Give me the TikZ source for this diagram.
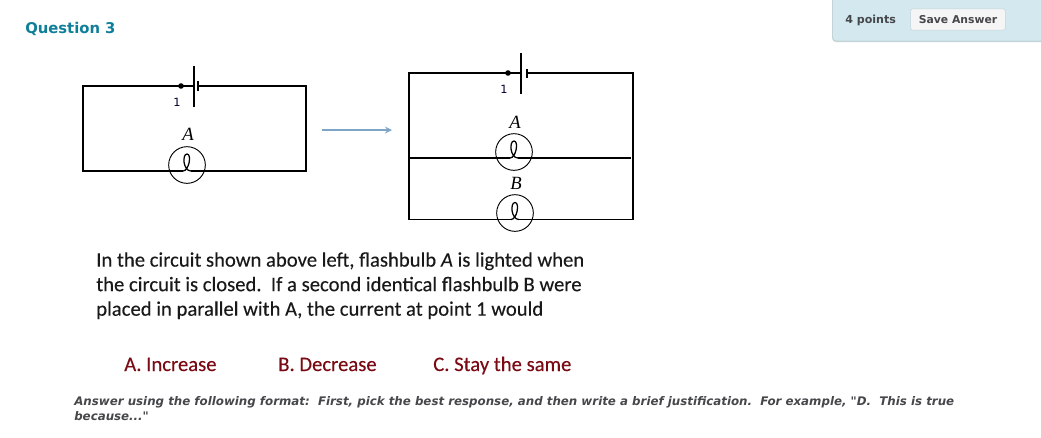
\documentclass[tikz,border=0pt]{standalone}
\usepackage{fontspec}
\setmainfont{Carlito}[FakeBold=0.2,AutoFakeBold=false]
\newfontfamily\bodyfont{Carlito}[ItalicFont=Carlito Italic]
\newfontfamily\uifont{DejaVu Sans}
\newfontfamily\lampfont{Liberation Serif}
\definecolor{headteal}{HTML}{0F7F99}
\definecolor{panelblue}{HTML}{D3E9EF}
\definecolor{panelline}{HTML}{C4D3D8}
\definecolor{choicered}{HTML}{7A0A14}
\definecolor{notegrey}{HTML}{45474A}
\definecolor{arrowblue}{HTML}{7FA5C6}
\begin{document}
\begin{tikzpicture}[x=0.75pt,y=-0.75pt,
    wire/.style ={line width=1.35pt, black},
    plate/.style ={line width=0.95pt, black},
    lamp/.style ={circle, draw, line width=0.7pt, inner sep = 0pt, minimum size=27.5pt},
    junction/.style ={circle, fill, inner sep = 0pt, minimum size=4.2pt},
    filament/.style ={line width=0.95pt, to path={.. controls +(6,0) and +(5,0) .. ++(4,-17) .. controls +(-5,0) and +(-8,0) .. (\tikztotarget)}},
    lamplabel/.style ={font=\lampfont\itshape\fontsize{14}{16}\selectfont},
    pointlabel/.style ={font=\uifont\fontsize{8.5}{10}\selectfont, text=black!80!blue},
    uitext/.style ={anchor=base west, inner sep=0pt, font=\uifont\bfseries\fontsize{8.3}{10}\selectfont, text=notegrey},
    choice/.style ={anchor=base west, inner sep=0pt, font=\bodyfont\fontsize{15.5}{18}\selectfont\addfontfeatures{FakeBold=0.2}, text=choicered}]
   \useasboundingbox (0,0) rectangle (1041,437);
   % top right panel
   \fill[panelline] (832,-5) -- (832,38) arc (180:90:4) -- (1046,42) -- (1046,-5) -- cycle;
   \fill[panelblue] (833,-5) -- (833,37) arc (180:90:3.5) -- (1046,40.5) -- (1046,-5) -- cycle;
   \node[uitext] (points) at (845,23) {4 points};
   \node[draw=panelline, fill=black!4, rounded corners=1.5pt, minimum width=71pt, minimum height=16pt, inner sep=0pt,
     font=\uifont\bfseries\fontsize{8.1}{10}\selectfont, text=notegrey] (save) at (958,19.5) {Save Answer};
   \node[uitext, text=headteal, font=\uifont\bfseries\fontsize{11.1}{13}\selectfont] (question) at (25,33) {Question 3};

   % left circuit
   \coordinate (TL) at (83,86);
   \coordinate (TR) at (306,86);
   \coordinate (BL) at (83,171);
   \coordinate (BR) at (306,171);
   \coordinate (batL) at (194,86);
   \coordinate (batR) at (198,86);
   \node[junction] (dotL) at (181,86) {};
   \node[pointlabel] (pointL) at (177,102) {1};
   \node[lamp] (lampA) at (187,165) {};
   \coordinate (lampAin) at (183,171);
   \coordinate (lampAout) at (191,171);
   \node[lamplabel] (nameA) at (188,134) {A};
   \draw[wire] (batL) to (TL) to (BL) to (lampAin);
   \draw[wire] (batR) to (TR) to (BR) to (lampAout);
   \draw[filament] (lampAin) to (lampAout);
   \draw[plate] (194,66) to (194,107);
   \draw[plate] (198,81) to (198,91);

   % arrow between the circuits
   \coordinate (arrowS) at (322,130);
   \coordinate (arrowE) at (392,130);
   \draw[arrowblue, line width=1.3pt, -stealth] (arrowS) to (arrowE);

   % right circuit
   \coordinate (tl) at (409,73);
   \coordinate (tr) at (633,73);
   \coordinate (ml) at (409,158);
   \coordinate (mr) at (631,158);
   \coordinate (bl) at (409,219.5);
   \coordinate (br) at (633,219.5);
   \coordinate (batl) at (521,73);
   \coordinate (batr) at (527,73);
   \node[junction] (dotR) at (508,73) {};
   \node[pointlabel] (pointR) at (504,89) {1};
   \node[lamp] (lampB) at (514,152) {};
   \node[lamp] (lampC) at (515,213) {};
   \coordinate (lampBin) at (510,158);
   \coordinate (lampBout) at (518,158);
   \coordinate (lampCin) at (511,219.5);
   \coordinate (lampCout) at (519,219.5);
   \node[lamplabel] (nameB) at (515,122) {A};
   \node[lamplabel] (nameC) at (516,183) {B};
   \draw[wire] (batl) to (tl) to (bl) to (lampCin);
   \draw[wire] (batr) to (tr) to (br) to (lampCout);
   \draw[wire] (ml) to (lampBin);
   \draw[wire] (lampBout) to (mr);
   \draw[filament] (lampBin) to (lampBout);
   \draw[filament] (lampCin) to (lampCout);
   \draw[plate] (521,53) to (521,94);
   \draw[plate] (527,69) to (527,78);

   % question text
   \node[choice, text=black!90, align=left, anchor=north west, font=\bodyfont\fontsize{15.5}{18.4}\selectfont\addfontfeatures{FakeBold=0.2}] (body) at (96,252)
     {In the circuit shown above left, flashbulb \textit{A} is lighted when\\
      the circuit is closed.\ \ If a second identical flashbulb B were\\
      placed in parallel with A, the current at point 1 would};
   \node[choice] (choiceA) at (124,371) {A. Increase};
   \node[choice] (choiceB) at (278,371) {B. Decrease};
   \node[choice] (choiceC) at (433,371) {C. Stay the same};
   \node[uitext, font=\uifont\bfseries\itshape\fontsize{8.87}{11}\selectfont, align=left, anchor=north west] (note) at (74,396.5)
     {Answer using the following format:\ \ First, pick the best response, and then write a brief justification.\ \ For example, "D.\ \ This is true\\
      because..."};
\end{tikzpicture}
\end{document}
